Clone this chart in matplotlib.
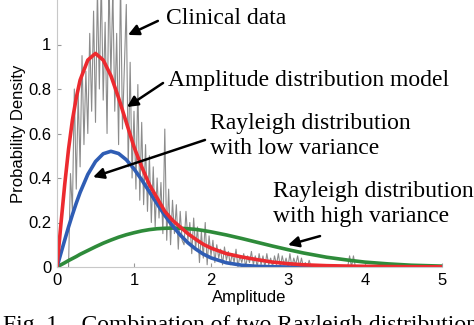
# Clinical amplitude data vs. Rayleigh mixture model
import numpy as np
import matplotlib.pyplot as plt

# smooth model curves, sampled at these amplitudes
curve_x = [0, 0.05, 0.1, 0.15, 0.2, 0.25, 0.3, 0.4, 0.5, 0.6, 0.7, 0.8, 0.9, 1.0,
           1.1, 1.2, 1.3, 1.4, 1.5, 1.6, 1.7, 1.8, 1.9, 2.0, 2.2, 2.4, 2.6, 2.8,
           3.0, 3.2, 3.5, 3.8, 4.0, 4.3, 4.6, 5.0]
model = [0, 0.19, 0.37, 0.53, 0.66, 0.76, 0.84, 0.93, 0.96, 0.93, 0.86, 0.76, 0.65, 0.54,
         0.45, 0.37, 0.31, 0.25, 0.21, 0.18, 0.15, 0.125, 0.102, 0.085, 0.06, 0.045, 0.033, 0.022,
         0.015, 0.01, 0.006, 0.004, 0.003, 0.002, 0.001, 0.001]
low_var = [0, 0.061, 0.121, 0.18, 0.235, 0.287, 0.335, 0.416, 0.474, 0.509, 0.520, 0.510, 0.482, 0.441,
           0.392, 0.338, 0.284, 0.232, 0.185, 0.144, 0.109, 0.081, 0.058, 0.041, 0.019, 0.008, 0.003, 0.001,
           0.0, 0.0, 0.0, 0.0, 0.0, 0.0, 0.0, 0.0]
high_var = [0, 0.0096, 0.019, 0.029, 0.038, 0.047, 0.057, 0.074, 0.091, 0.107, 0.121, 0.134, 0.145, 0.154,
            0.162, 0.168, 0.172, 0.174, 0.175, 0.174, 0.172, 0.169, 0.164, 0.158, 0.144, 0.128, 0.111, 0.094,
            0.078, 0.063, 0.044, 0.030, 0.022, 0.014, 0.008, 0.004]

# clinical histogram, bins of 0.025 starting at 0.15
clinical = [
    0.00, 0.42, 0.25, 0.80, 0.35, 0.78, 0.45, 0.95, 0.55, 0.88,
    0.60, 1.05, 0.70, 1.15, 0.65, 1.25, 0.80, 1.30, 0.75, 1.10,
    0.60, 1.30, 0.85, 1.25, 0.70, 1.05, 0.55, 1.30, 0.62, 0.90,
    1.18, 0.45, 0.92, 0.40, 0.70, 0.35, 0.82, 0.30, 0.65, 0.28,
    0.55, 0.25, 0.50, 0.20, 0.45, 0.18, 0.40, 0.22, 0.38, 0.15,
    0.62, 0.12, 0.35, 0.10, 0.30, 0.15, 0.28, 0.08, 0.25, 0.12,
    0.10, 0.25, 0.12, 0.20, 0.06, 0.22, 0.08, 0.18, 0.02, 0.16,
    0.04, 0.20, 0.01, 0.14, 0.05, 0.12, 0.02, 0.10, 0.04, 0.08,
    0.01, 0.09, 0.03, 0.07, 0.01, 0.06, 0.02, 0.08, 0.00, 0.05,
    0.02, 0.06, 0.00, 0.05, 0.02, 0.07, 0.01, 0.05, 0.00, 0.06,
    0.01, 0.05, 0.00, 0.06, 0.01, 0.04, 0.00, 0.05, 0.01, 0.06,
    0.00, 0.05, 0.01, 0.04, 0.00, 0.06, 0.00, 0.04, 0.01, 0.05,
    0.00, 0.04, 0.00, 0.02, 0.00, 0.03, 0.00, 0.01, 0.00, 0.00,
    0.00, 0.00, 0.00, 0.00, 0.00, 0.00, 0.00, 0.00, 0.00, 0.00,
    0.00, 0.00, 0.00, 0.00, 0.00, 0.00, 0.05, 0.00, 0.05, 0.00,
]
clinical_x = 0.15 + 0.025 * np.arange(len(clinical))

xticks = [0, 1, 2, 3, 4, 5]
yticks = [0, 0.2, 0.4, 0.6, 0.8, 1.0]
ytick_labels = ["0", "0.2", "0.4", "0.6", "0.8", "1"]

serif = ["Liberation Serif", "DejaVu Serif"]
plt.rcParams["font.family"] = ["Liberation Sans", "DejaVu Sans"]

fig = plt.figure(figsize=(4.74, 3.25), dpi=100)
ax = fig.add_axes([57 / 474, 58 / 325, 385 / 474, 267 / 325])

ax.plot(clinical_x, clinical, color="#8c8c8c", lw=0.8)
ax.plot(curve_x, high_var, color="#2e8b3a", lw=2.6, solid_capstyle="butt")
ax.plot(curve_x, low_var, color="#2f5db4", lw=2.6, solid_capstyle="butt")
ax.plot(curve_x, model, color="#ec2a2f", lw=2.6, solid_capstyle="butt")

ax.set_xlim(0, 5)
ax.set_ylim(0, 1.2)
ax.set_xticks(xticks)
ax.set_yticks(yticks)
ax.set_yticklabels(ytick_labels)
ax.tick_params(direction="in", length=3, color="#999999", labelsize=12, pad=4)
for side in ["top", "right"]:
    ax.spines[side].set_visible(False)
for side in ["left", "bottom"]:
    ax.spines[side].set_color("#c8c8c8")
    ax.spines[side].set_linewidth(0.8)
ax.set_xlabel("Amplitude", fontsize=12, labelpad=2)
ax.set_ylabel("Probability Density", fontsize=12, labelpad=2)

arrow = dict(arrowstyle="-|>", color="black", lw=1.8, mutation_scale=16,
             shrinkA=0, shrinkB=0)
notes = [
    ("Clinical data", (1.416, 1.119), (0.922, 1.043), (1.31, 1.106)),
    ("Amplitude distribution model", (1.442, 0.840), (0.909, 0.719), (1.377, 0.827)),
    ("Rayleigh distribution\nwith low variance", (1.987, 0.589), (0.468, 0.404), (1.922, 0.571)),
    ("Rayleigh distribution\nwith high variance", (2.805, 0.283), (3.0, 0.099), (3.416, 0.139)),
]
for label, txt_pos, head, tail in notes:
    ax.text(*txt_pos, label, family=serif, fontsize=17, ha="left", va="center",
            linespacing=1.2, clip_on=False)
    ax.annotate("", xy=head, xytext=tail, arrowprops=arrow)

fig.text(3 / 474, -0.02, "Fig. 1.   Combination of two Rayleigh distributions.",
         family=serif, fontsize=17, ha="left", va="baseline")

fig.savefig("out.png", dpi=100)
